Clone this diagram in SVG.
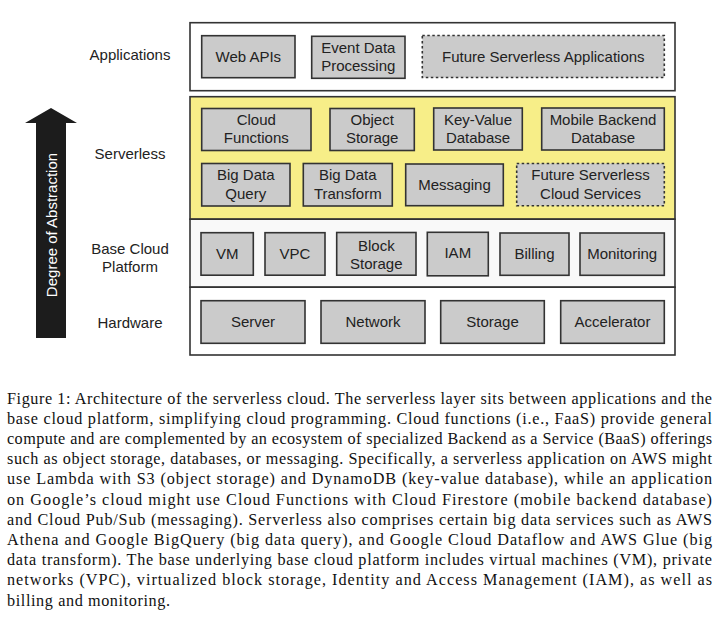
<svg xmlns="http://www.w3.org/2000/svg" width="720" height="629" viewBox="0 0 720 629">
<style>
.layer{stroke:#333;stroke-width:1.6}
.box{fill:#cbcbcb;stroke:#333;stroke-width:1.6}
.dot{fill:#cbcbcb;stroke:#333;stroke-width:1.6;stroke-dasharray:2.5,2.5}
.t{font-family:"Liberation Sans",Arial,sans-serif;font-size:15px;fill:#222;text-anchor:middle}
.cap{font-family:"Liberation Serif","Times New Roman",serif;font-size:16.2px;fill:#111}
</style>
<rect width="720" height="629" fill="#fff"/>
<g id="layers">
<rect id="layer-applications" class="layer" x="190" y="22.7" width="485" height="68" fill="#fff"/>
<rect id="layer-serverless" class="layer" x="190" y="96.7" width="485" height="122.5" fill="#f7ee88"/>
<rect id="layer-base" class="layer" x="190" y="219.2" width="485" height="68" fill="#f9f9f9"/>
<rect id="layer-hardware" class="layer" x="190" y="287.2" width="485" height="67.8" fill="#fff"/>
</g>
<g id="labels">
<text class="t" x="130" y="59.5">Applications</text>
<text class="t" x="130" y="158.5">Serverless</text>
<text class="t" x="130" y="253.5">Base Cloud</text>
<text class="t" x="130" y="271.5">Platform</text>
<text class="t" x="130" y="328">Hardware</text>
</g>
<g id="arrow">
<polygon points="36,338 36,123 25,123 51,108 77,123 66,123 66,338" fill="#1c1c1c"/>
<text class="t" transform="translate(56.5,225) rotate(-90)" x="0" y="0" style="fill:#fff">Degree of Abstraction</text>
</g>
<g id="connectors"></g>
<g id="node-webapis"><rect class="box" x="201.7" y="35.7" width="93.3" height="42"/><text class="t" x="248.3" y="62">Web APIs</text></g>
<g id="node-eventdata"><rect class="box" x="311.7" y="36.3" width="93.3" height="42"/><text class="t" x="358.3" y="52.8">Event Data</text><text class="t" x="358.3" y="71">Processing</text></g>
<g id="node-futureapps"><rect class="dot" x="422.3" y="35.5" width="242" height="42"/><text class="t" x="543.3" y="61.5">Future Serverless Applications</text></g>
<g id="node-cloudfunctions"><rect class="box" x="201.7" y="108.5" width="109.3" height="42"/><text class="t" x="256.3" y="125.2">Cloud</text><text class="t" x="256.3" y="142.8">Functions</text></g>
<g id="node-objectstorage"><rect class="box" x="330" y="108.5" width="84.3" height="42"/><text class="t" x="372.2" y="125.2">Object</text><text class="t" x="372.2" y="142.8">Storage</text></g>
<g id="node-keyvalue"><rect class="box" x="433.7" y="108" width="88.6" height="42"/><text class="t" x="478" y="125">Key-Value</text><text class="t" x="478" y="142.6">Database</text></g>
<g id="node-mobilebackend"><rect class="box" x="541.7" y="108" width="122.6" height="42"/><text class="t" x="603" y="125">Mobile Backend</text><text class="t" x="603" y="142.6">Database</text></g>
<g id="node-bigdataquery"><rect class="box" x="201.7" y="163.5" width="88.3" height="42.5"/><text class="t" x="245.8" y="179.5">Big Data</text><text class="t" x="245.8" y="198.8">Query</text></g>
<g id="node-bigdatatransform"><rect class="box" x="303.3" y="163.5" width="89" height="42.5"/><text class="t" x="347.8" y="179.5">Big Data</text><text class="t" x="347.8" y="198.8">Transform</text></g>
<g id="node-messaging"><rect class="box" x="405.7" y="164" width="97.6" height="41.7"/><text class="t" x="454.5" y="190.2">Messaging</text></g>
<g id="node-futureservices"><rect class="dot" x="516.7" y="163.5" width="147.6" height="42.2"/><text class="t" x="590.5" y="180">Future Serverless</text><text class="t" x="590.5" y="199">Cloud Services</text></g>
<g id="node-vm"><rect class="box" x="201" y="232.7" width="52.3" height="42.5"/><text class="t" x="227.2" y="259.3">VM</text></g>
<g id="node-vpc"><rect class="box" x="265" y="232.7" width="60" height="42.5"/><text class="t" x="295" y="259.3">VPC</text></g>
<g id="node-blockstorage"><rect class="box" x="336.7" y="232.5" width="79.3" height="42.7"/><text class="t" x="376.3" y="251">Block</text><text class="t" x="376.3" y="268.8">Storage</text></g>
<g id="node-iam"><rect class="box" x="427.3" y="232.3" width="61" height="43.5"/><text class="t" x="457.8" y="258.3">IAM</text></g>
<g id="node-billing"><rect class="box" x="500" y="233" width="69" height="42.3"/><text class="t" x="534.5" y="259">Billing</text></g>
<g id="node-monitoring"><rect class="box" x="580" y="233" width="84.3" height="42.3"/><text class="t" x="622.2" y="259">Monitoring</text></g>
<g id="node-server"><rect class="box" x="201" y="300.7" width="104" height="42.6"/><text class="t" x="253" y="327.3">Server</text></g>
<g id="node-network"><rect class="box" x="321" y="300.7" width="104" height="42.6"/><text class="t" x="373" y="327.3">Network</text></g>
<g id="node-storage"><rect class="box" x="440.7" y="300.7" width="103.6" height="42.6"/><text class="t" x="492.5" y="327.3">Storage</text></g>
<g id="node-accelerator"><rect class="box" x="560.7" y="300.7" width="103.6" height="42.6"/><text class="t" x="612.5" y="327.3">Accelerator</text></g>
<g id="caption">
<text class="cap" x="7" y="403.5" textLength="705" lengthAdjust="spacing">Figure 1: Architecture of the serverless cloud. The serverless layer sits between applications and the</text>
<text class="cap" x="7" y="423.7" textLength="705" lengthAdjust="spacing">base cloud platform, simplifying cloud programming. Cloud functions (i.e., FaaS) provide general</text>
<text class="cap" x="7" y="443.9" textLength="705" lengthAdjust="spacing">compute and are complemented by an ecosystem of specialized Backend as a Service (BaaS) offerings</text>
<text class="cap" x="7" y="464.1" textLength="705" lengthAdjust="spacing">such as object storage, databases, or messaging. Specifically, a serverless application on AWS might</text>
<text class="cap" x="7" y="484.3" textLength="705" lengthAdjust="spacing">use Lambda with S3 (object storage) and DynamoDB (key-value database), while an application</text>
<text class="cap" x="7" y="504.5" textLength="705" lengthAdjust="spacing">on Google’s cloud might use Cloud Functions with Cloud Firestore (mobile backend database)</text>
<text class="cap" x="7" y="524.7" textLength="705" lengthAdjust="spacing">and Cloud Pub/Sub (messaging). Serverless also comprises certain big data services such as AWS</text>
<text class="cap" x="7" y="544.9" textLength="705" lengthAdjust="spacing">Athena and Google BigQuery (big data query), and Google Cloud Dataflow and AWS Glue (big</text>
<text class="cap" x="7" y="565.1" textLength="705" lengthAdjust="spacing">data transform). The base underlying base cloud platform includes virtual machines (VM), private</text>
<text class="cap" x="7" y="585.3" textLength="705" lengthAdjust="spacing">networks (VPC), virtualized block storage, Identity and Access Management (IAM), as well as</text>
<text class="cap" x="7" y="605.5" textLength="163" lengthAdjust="spacing">billing and monitoring.</text>
</g>
</svg>
